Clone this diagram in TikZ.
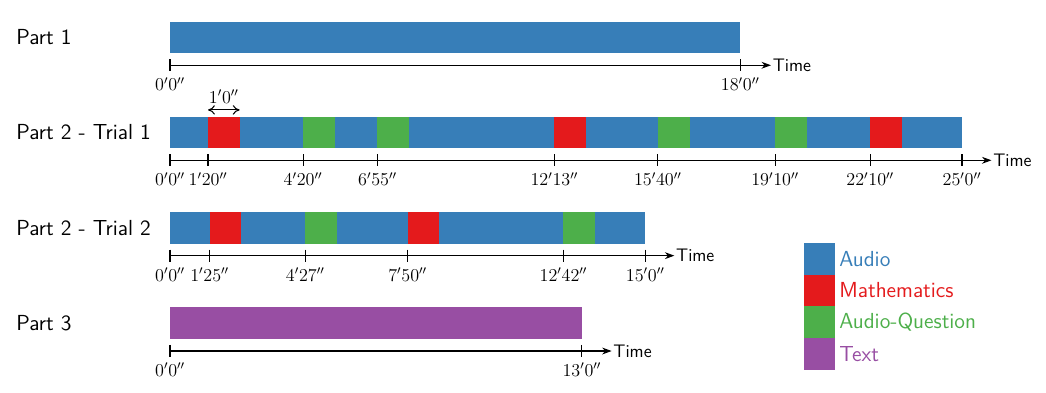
\documentclass[tikz,border=0pt]{standalone}
\usepackage{tikz}
\usetikzlibrary{arrows.meta,positioning}
\definecolor{Aud}{RGB}{55,126,184}
\definecolor{Mat}{RGB}{228,26,28}
\definecolor{AQ}{RGB}{77,175,74}
\definecolor{Txt}{RGB}{152,78,163}
\tikzset{
  plab/.style={font=\sffamily\Large,anchor=west,inner sep=0pt},
  tlab/.style={font=\large,inner sep=1pt},
  timel/.style={font=\sffamily\large,anchor=west,inner sep=1pt},
  legt/.style={font=\sffamily\Large,anchor=west,inner sep=0pt},
  taxis/.style={-{Stealth[length=2.2mm,width=1.6mm]},line width=0.7pt},
  tmark/.style={line width=0.7pt},
  dimarr/.style={{To[length=1.6mm,width=2.2mm]}-{To[length=1.6mm,width=2.2mm]},line width=0.7pt}
}

\begin{document}
\begin{tikzpicture}[x=0.7367cm,y=0.7367cm]
\useasboundingbox (-5.366,0) rectangle (27.652,-12.405);
% Part 1
\node[plab] (p1) at (-4.86,-1.18) {Part 1};
\fill[Aud] (0,-1.68) rectangle (18,-0.68);
\coordinate (p1o) at (0,-2.06);
\node[timel] (p1time) at (18.97,-2.06) {Time};
\draw[taxis] (p1o) -- (p1time.west);
\foreach \x/\l [count=\i] in {0/0'0'',18/18'0''}{
  \draw[tmark] (\x,-1.87) -- (\x,-2.25);
  \node[tlab] (p1l\i) at (\x,-2.65) {$\l$};
}
% Part 2 - Trial 1
\node[plab] (r1) at (-4.86,-4.18) {Part 2 - Trial 1};
\fill[Aud] (0,-4.68) rectangle (25,-3.68);
\foreach \x in {1.20,12.13,22.10} \fill[Mat] (\x,-4.68) rectangle ++(1,1);
\foreach \x in {4.20,6.55,15.40,19.10} \fill[AQ] (\x,-4.68) rectangle ++(1,1);
\coordinate (r1o) at (0,-5.06);
\node[timel] (r1time) at (25.93,-5.06) {Time};
\draw[taxis] (r1o) -- (r1time.west);
\foreach \x/\l [count=\i] in {0/0'0'',1.20/1'20'',4.20/4'20'',6.55/6'55'',12.13/12'13'',15.40/15'40'',19.10/19'10'',22.10/22'10'',25/25'0''}{
  \draw[tmark] (\x,-4.87) -- (\x,-5.25);
  \node[tlab] (r1l\i) at (\x,-5.65) {$\l$};
}
% width of one block
\coordinate (d1a) at (1.20,-3.47);
\coordinate (d1b) at (2.20,-3.47);
\draw[dimarr] (d1a) -- (d1b);
\node[tlab] (d1l) at (1.70,-3.05) {$1'0''$};
% Part 2 - Trial 2
\node[plab] (r2) at (-4.86,-7.19) {Part 2 - Trial 2};
\fill[Aud] (0,-7.69) rectangle (15,-6.69);
\foreach \x in {1.25,7.50} \fill[Mat] (\x,-7.69) rectangle ++(1,1);
\foreach \x in {4.27,12.42} \fill[AQ] (\x,-7.69) rectangle ++(1,1);
\coordinate (r2o) at (0,-8.07);
\node[timel] (r2time) at (15.92,-8.07) {Time};
\draw[taxis] (r2o) -- (r2time.west);
\foreach \x/\l [count=\i] in {0/0'0'',1.25/1'25'',4.27/4'27'',7.50/7'50'',12.42/12'42'',15/15'0''}{
  \draw[tmark] (\x,-7.88) -- (\x,-8.26);
  \node[tlab] (r2l\i) at (\x,-8.66) {$\l$};
}
% Part 3
\node[plab] (p3) at (-4.86,-10.2) {Part 3};
\fill[Txt] (0,-10.7) rectangle (13,-9.7);
\coordinate (p3o) at (0,-11.08);
\node[timel] (p3time) at (13.94,-11.08) {Time};
\draw[taxis] (p3o) -- (p3time.west);
\foreach \x/\l [count=\i] in {0/0'0'',13/13'0''}{
  \draw[tmark] (\x,-10.89) -- (\x,-11.27);
  \node[tlab] (p3l\i) at (\x,-11.67) {$\l$};
}
% legend
\fill[Aud] (20,-7.67) rectangle (21,-8.67);
\fill[Mat] (20,-8.67) rectangle (21,-9.67);
\fill[AQ] (20,-9.67) rectangle (21,-10.67);
\fill[Txt] (20,-10.67) rectangle (21,-11.67);
\node[legt,text=Aud] (lgaud) at (21.12,-8.17) {Audio};
\node[legt,text=Mat] (lgmat) at (21.12,-9.17) {Mathematics};
\node[legt,text=AQ] (lgaq) at (21.12,-10.17) {Audio-Question};
\node[legt,text=Txt] (lgtxt) at (21.12,-11.17) {Text};
\end{tikzpicture}
\end{document}
